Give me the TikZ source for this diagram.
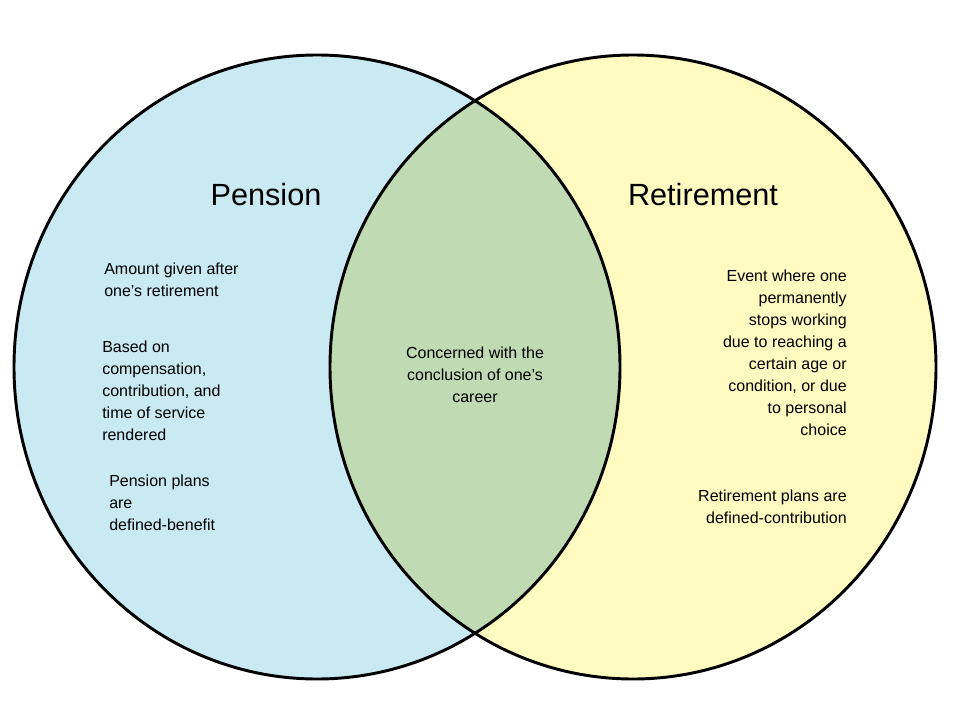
\documentclass[tikz,border=0pt]{standalone}
\usepackage{fontspec}
\setmainfont{Liberation Sans}
\definecolor{penblue}{HTML}{C9E9F3}
\definecolor{retyellow}{HTML}{FFFAC0}
\definecolor{bothgreen}{HTML}{C0DBB3}
\tikzset{
  fact/.style={inner sep=0pt, font=\fontsize{12}{16.5}\selectfont},
  title/.style={inner sep=0pt, font=\fontsize{23}{26}\selectfont}
}
\begin{document}
\begin{tikzpicture}[x=0.75pt,y=-0.75pt]
	\useasboundingbox (0,0) rectangle (960,720);
	% the two sets
	\fill[penblue] (317,367) ellipse [x radius=303, y radius=312];
	\fill[retyellow] (633,367) ellipse [x radius=303, y radius=312];
	\begin{scope}
		\clip (317,367) ellipse [x radius=303, y radius=312];
		\fill[bothgreen] (633,367) ellipse [x radius=303, y radius=312];
	\end{scope}
	\draw[line width=2.2pt] (317,367) ellipse [x radius=303, y radius=312];
	\draw[line width=2.2pt] (633,367) ellipse [x radius=303, y radius=312];
	% titles
	\node[title] (pension) at (266,195) {Pension};
	\node[title] (retire) at (703,195) {Retirement};
	% left facts
	\node[fact, anchor=north west, align=left] (amount) at (104,263) {Amount given after\\one’s retirement};
	\node[fact, anchor=north west, align=left] (based) at (102,341) {Based on\\compensation,\\contribution, and\\time of service\\rendered};
	\node[fact, anchor=north west, align=left] (plans) at (109,475) {Pension plans\\are\\defined-benefit};
	% common
	\node[fact, anchor=north, align=center] (common) at (475,347) {Concerned with the\\conclusion of one’s\\career};
	% right facts
	\node[fact, anchor=north east, align=right] (event) at (847,270) {Event where one\\permanently\\stops working\\due to reaching a\\certain age or\\condition, or due\\to personal\\choice};
	\node[fact, anchor=north east, align=right] (rplans) at (847,490) {Retirement plans are\\defined-contribution};
\end{tikzpicture}
\end{document}
